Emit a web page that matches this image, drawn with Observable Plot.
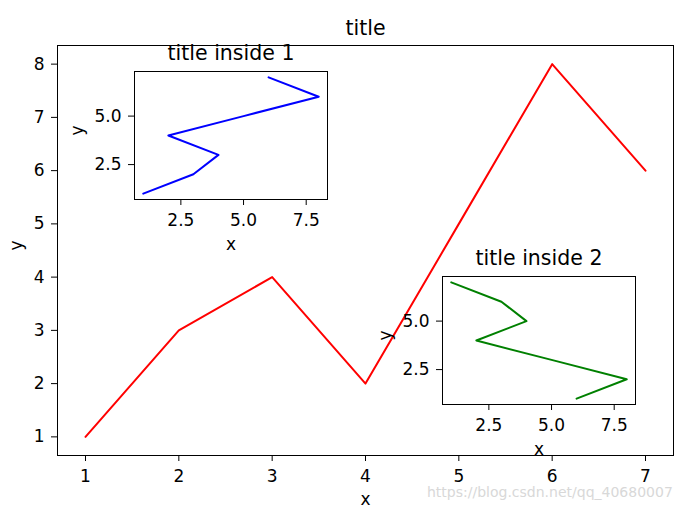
<!DOCTYPE html>
<html><head>
<meta charset="utf-8">
<script src="https://cdn.jsdelivr.net/npm/d3@7"></script>
<script src="https://cdn.jsdelivr.net/npm/@observablehq/plot@0.6"></script>
<style>
body{margin:0;background:#fff;font-family:"DejaVu Sans";}
#wrap{position:relative;width:683px;height:512px;overflow:hidden;}
.layer{position:absolute;}
#wm{position:absolute;left:427px;top:484px;font:14px "DejaVu Sans";color:#d8d8d8;}
</style>
</head><body>
<div id="wrap"><div id="wm">https://blog.csdn.net/qq_40680007</div></div>
<script>
// data
const xs = [1, 2, 3, 4, 5, 6, 7];
const ys = [1, 3, 4, 2, 5, 8, 6];
const ysRev = [6, 8, 5, 2, 4, 3, 1];
const mainXTicks = [1, 2, 3, 4, 5, 6, 7];
const mainYTicks = [1, 2, 3, 4, 5, 6, 7, 8];
const insetTicks = [2.5, 5.0, 7.5];
const insetYTicks = [2.5, 5.0];

const FONT = "DejaVu Sans";
const TICK = 17, TITLE = 20.5;
const wrap = document.getElementById("wrap");

function place(svg, left, top) {
  svg.classList.add("layer");
  svg.style.left = left + "px";
  svg.style.top = top + "px";
  wrap.appendChild(svg);
}

// main chart
const mainData = xs.map((x, i) => ({x, y: ys[i]}));
const main = Plot.plot({
  width: 683, height: 512,
  marginLeft: 57, marginRight: 10, marginTop: 45, marginBottom: 57,
  style: {fontFamily: FONT, fontSize: TICK + "px", color: "black", background: "transparent", overflow: "visible"},
  x: {domain: [0.7, 7.3]},
  y: {domain: [0.65, 8.35]},
  marks: [
    Plot.frame({stroke: "black"}),
    Plot.axisX({ticks: mainXTicks, tickSize: 6, tickPadding: 8, label: null, tickFormat: d3.format("d")}),
    Plot.axisY({ticks: mainYTicks, tickSize: 6, tickPadding: 7, label: null, tickFormat: d3.format("d")}),
    Plot.line(mainData, {x: "x", y: "y", stroke: "red", strokeWidth: 2}),
    Plot.text(["x"], {frameAnchor: "bottom", lineAnchor: "middle", dy: 43.6, fontSize: TICK}),
    Plot.text(["y"], {frameAnchor: "left", lineAnchor: "middle", dx: -41, rotate: -90, fontSize: TICK}),
    Plot.text(["title"], {frameAnchor: "top", lineAnchor: "middle", dy: -16.6, fontSize: TITLE})
  ]
});
place(main, 0, 0);

function inset(dataX, dataY, color, title, frameLeft, frameTop, opts) {
  const mL = 60, mR = 10, mT = 35, mB = 55, w = 193, h = 128;
  const data = dataX.map((x, i) => ({x, y: dataY[i]}));
  const svg = Plot.plot({
    width: w + mL + mR, height: h + mT + mB,
    marginLeft: mL, marginRight: mR, marginTop: mT, marginBottom: mB,
    style: {fontFamily: FONT, fontSize: TICK + "px", color: "black", background: "transparent", overflow: "visible"},
    x: {domain: [0.65, 8.35]},
    y: {domain: [0.7, 7.3]},
    marks: [
      Plot.frame({fill: "white"}),
      Plot.line(data, {x: "x", y: "y", stroke: color, strokeWidth: 2}),
      Plot.frame({stroke: "black"}),
      Plot.axisX({ticks: insetTicks, tickSize: 6, tickPadding: 8.5, label: null, tickFormat: d3.format(".1f")}),
      Plot.axisY({ticks: insetYTicks, tickSize: 6, tickPadding: 7, label: null, tickFormat: d3.format(".1f")}),
      Plot.text(["x"], {frameAnchor: "bottom", lineAnchor: "middle", dy: opts.xdy, fontSize: TICK}),
      Plot.text(["y"], {frameAnchor: "left", lineAnchor: "middle", dx: opts.ydx, rotate: -90, fontSize: TICK}),
      Plot.text([title], {frameAnchor: "top", lineAnchor: "middle", dy: opts.tdy, fontSize: TITLE})
    ]
  });
  place(svg, frameLeft - mL, frameTop - mT);
}

inset(ys, xs, "blue", "title inside 1", 134, 71, {xdy: 44.6, ydx: -57, tdy: -18});
inset(ysRev, xs, "green", "title inside 2", 442, 276, {xdy: 44.6, ydx: -56.5, tdy: -18});
</script>
</body></html>
